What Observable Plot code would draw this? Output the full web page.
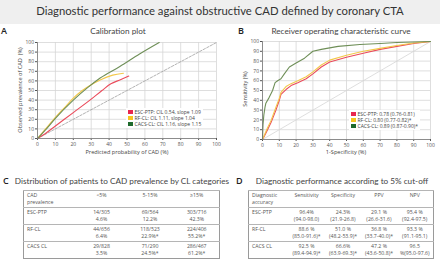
<!DOCTYPE html>
<html>
<head>
<meta charset="utf-8">
<script src="https://cdn.jsdelivr.net/npm/d3@7"></script>
<script src="https://cdn.jsdelivr.net/npm/@observablehq/plot@0.6"></script>
<style>
  body { margin: 0; background: #fff; }
  #fig { position: relative; width: 440px; height: 260px; overflow: hidden;
         font-family: "Open Sans", "Noto Sans", sans-serif; color: #444; background: #fff; }
  .abs { position: absolute; white-space: nowrap; }
  .band { left: 0; top: 0; width: 440px; height: 24px; background: #efefef; }
  .main { left: 0; top: 4px; width: 440px; text-align: center; font-family: Lato, sans-serif; font-size: 11.3px; color: #333; }
  .letter { font-size: 9px; font-weight: 600; color: #222; }
  .ptitle { font-family: Lato, sans-serif; font-size: 8.2px; color: #444; transform: translateX(-50%); }
  .ylab { font-size: 5.6px; color: #444; transform: translate(-50%, -50%) rotate(-90deg); }
  .xlab { font-size: 5.6px; color: #444; transform: translateX(-50%); }
  .legend { background: #fff; font-size: 5px; color: #444; padding: 1px 2px; }
  .legend div { display: flex; align-items: center; height: 6px; }
  .legend span.sw { display: inline-block; width: 4.5px; height: 4.5px; margin-right: 2px; }
  table { border-collapse: collapse; table-layout: fixed; font-size: 5.2px; color: #555; line-height: 7.4px; }
  td { border-top: 0.8px solid #b5b5b5; padding: 0 3px; text-align: center; vertical-align: middle; }
  td.lab { text-align: left; vertical-align: top; padding-top: 0.5px; }
  tr.head td { vertical-align: top; padding-top: 1px; }
  td.lab span { display: inline-block; white-space: normal; width: 30px; }
  table.box { border: 0.8px solid #9a9a9a; }
</style>
</head>
<body>
<div id="fig"></div>
<script>
// ---- shared axis ticks (percent) ----
const axisTicks = [0, 10, 20, 30, 40, 50, 60, 70, 80, 90, 100];

// ---- model names and colours ----
const modelNames = ["ESC-PTP", "RF-CL", "CACS-CL"];
const swatchColors = ["#e8264f", "#f7c520", "#1f6a2c"];
const lineColors = ["#ea4b5b", "#f3c84a", "#6f8f58"];

// ---- A: calibration curves, [predicted %, observed %] ----
const calEscPtp = [[0,0],[5,6],[10,13],[20,27],[30,41],[36,50],[41,57],[46,61],[51,65]];
const calRfCl   = [[0,0],[5,11],[10,22],[15,32],[20,42],[25,50],[30,56],[35,61],[42,66],[48,68]];
const calCacsCl = [[0,0],[5,10],[10,21],[20,40],[28,53],[35,63],[46,75],[57,88],[68,100]];
const calLegend = ["ESC-PTP: CIL 0.54, slope 1.09", "RF-CL: CIL 1.11, slope 1.04", "CACS-CL: CIL 1.16, slope 1.15"];

// ---- B: ROC curves, [1-specificity %, sensitivity %] ----
const rocEscPtp = [[0,0],[1,3],[3,10],[5,17],[8,30],[10,40],[11,46],[14,51],[17,55],[21,58],[26,62],[30,67],[35,74],[40,79],[50,84],[60,88],[70,92],[80,95],[90,98],[100,100]];
const rocRfCl   = [[0,0],[1,4],[3,12],[5,19],[8,33],[10,42],[11,48],[14,54],[17,57],[21,60],[26,64],[30,69],[35,76],[40,81],[50,86],[60,90],[70,93],[80,96],[90,98.5],[100,100]];
const rocCacsCl = [[0,0],[0.3,15],[0.8,25],[1.5,33],[2,37],[4,43],[6,50],[7.5,58],[9,60],[11,62],[13,67],[16,74],[20,78],[25,83],[30,90],[35,92],[45,95],[58,97],[70,98],[80,99],[90,99.5],[100,100]];
const rocLegend = ["ESC-PTP: 0.78 (0.76-0.81)", "RF-CL: 0.80 (0.77-0.82)*", "CACS-CL: 0.89 (0.87-0.90)*"];

// ---- C: distribution table ----
const distHeader = ["CAD prevalence", "<5%", "5-15%", "\u226515%"];
const distRows = ["ESC-PTP", "RF-CL", "CACS CL"];
const distCounts = [["14/305", "69/564", "303/716"], ["44/656", "118/523", "224/406"], ["29/828", "71/290", "286/467"]];
const distPct = [["4.6%", "12.2%", "42.3%"], ["6.4%", "22.9%*", "55.2%*"], ["3.5%", "24.5%*", "61.2%*"]];

// ---- D: diagnostic accuracy table ----
const accHeader = ["Diagnostic accuracy", "Sensitivity", "Specificity", "PPV", "NPV"];
const accRows = ["ESC-PTP", "RF-CL", "CACS CL"];
const accValues = [["96.4%", "24.3%", "29.1 %", "95.4 %"], ["88.6 %", "51.0 %", "36.8 %", "93.3 %"], ["92.5 %", "66.6%", "47.2 %", "96.5"]];
const accCI = [["(94.0-98.0)", "(21.9-26.8)", "(26.6-31.6)", "(92.4-97.5)"], ["(85.0-91.6)*", "(48.2-53.9)*", "(33.7-40.0)*", "(91.1-95.1)"], ["(89.4-94.9)*", "(63.9-69.3)*", "(43.6-50.8)*", "%(95.0-97.6)"]];

const fig = document.getElementById("fig");
function add(cls, css, html) {
  const d = document.createElement("div");
  d.className = "abs " + cls;
  Object.assign(d.style, css);
  d.innerHTML = html;
  fig.appendChild(d);
  return d;
}
const esc = s => s.replace(/&/g, "&amp;").replace(/</g, "&lt;");

add("band", {}, "");
add("main", {}, "Diagnostic performance against obstructive CAD defined by coronary CTA");

// ---- chart factory for the two line panels ----
function linePanel(series, opts) {
  const grid = "#d6d6d6";
  const marks = [
    Plot.ruleX(axisTicks, {stroke: grid, strokeWidth: 0.8}),
    Plot.ruleY(axisTicks, {stroke: grid, strokeWidth: 0.8}),
    opts.diagonal,
    ...series.map((s, i) => Plot.line(s, {x: d => d[0], y: d => d[1], stroke: lineColors[i], strokeWidth: 1.1, curve: opts.curve})),
    Plot.ruleX([0], {stroke: "#777", strokeWidth: 0.8}),
    Plot.ruleY([0], {stroke: "#777", strokeWidth: 0.8})
  ];
  return Plot.plot({
    width: 220, height: 122,
    marginLeft: opts.left, marginRight: opts.right, marginTop: opts.top, marginBottom: 122 - 102 + (opts.top - 6),
    style: {fontSize: "5px", fontFamily: "'Open Sans', sans-serif", color: "#555", background: "transparent", overflow: "visible"},
    x: {domain: [0, 100], ticks: axisTicks, tickSize: 2, tickPadding: 2, label: null},
    y: {domain: [0, 100], ticks: axisTicks, tickSize: 2, tickPadding: 1.5, label: null},
    marks
  });
}

// ---- A ----
add("letter", {left: "1px", top: "24px"}, "A");
add("ptitle", {left: "118px", top: "26px"}, "Calibration plot");
const plotA = linePanel([calEscPtp, calRfCl, calCacsCl], {
  left: 37, right: 4, top: 6, curve: "monotone-x",
  diagonal: Plot.line([[0, 0], [100, 100]], {x: d => d[0], y: d => d[1], stroke: "#a0a0a0", strokeWidth: 0.8, strokeDasharray: "2.5,1.5"})
});
Object.assign(plotA.style, {position: "absolute", left: "0px", top: "36px"});
fig.appendChild(plotA);
add("ylab", {left: "20px", top: "90px"}, "Observed prevalence of CAD&nbsp;&nbsp;(%)");
add("xlab", {left: "127px", top: "148px"}, "Predicted probability of CAD (%)");
add("legend", {left: "126px", top: "108px"},
  calLegend.map((t, i) => `<div><span class="sw" style="background:${swatchColors[i]}"></span>${esc(t)}</div>`).join(""));

// ---- B ----
add("letter", {left: "238px", top: "24px"}, "B");
add("ptitle", {left: "341px", top: "26px"}, "Receiver operating characteristic curve");
const plotB = linePanel([rocEscPtp, rocRfCl, rocCacsCl], {
  left: 42, right: 10, top: 5, curve: "linear",
  diagonal: Plot.line([[0, 0], [100, 100]], {x: d => d[0], y: d => d[1], stroke: "#d6d6d6", strokeWidth: 0.8})
});
Object.assign(plotB.style, {position: "absolute", left: "220px", top: "36px"});
fig.appendChild(plotB);
add("ylab", {left: "245px", top: "89px"}, "Sensitivity (%)");
add("xlab", {left: "346px", top: "148px"}, "1-Specificity (%)");
add("legend", {left: "349px", top: "110px"},
  rocLegend.map((t, i) => `<div><span class="sw" style="background:${swatchColors[i]}"></span>${esc(t)}</div>`).join(""));

// ---- tables ----
function table(widths, header, rows, top, bottom) {
  let h = `<table class="box" style="width:${widths.reduce((a, b) => a + b, 0)}px">`;
  h += `<colgroup>${widths.map(w => `<col style="width:${w}px">`).join("")}</colgroup>`;
  h += `<tr class="head" style="height:17px">` + header.map((t, i) =>
    i === 0 ? `<td class="lab"><span>${esc(t)}</span></td>` : `<td>${esc(t)}</td>`).join("") + `</tr>`;
  rows.forEach((r, i) => {
    h += `<tr style="height:17px"><td class="lab">${esc(r)}</td>` +
      top[i].map((v, j) => `<td>${esc(v)}<br>${esc(bottom[i][j])}</td>`).join("") + `</tr>`;
  });
  return h + `</table>`;
}

// ---- C ----
add("letter", {left: "3px", top: "174px"}, "C");
add("ptitle", {left: "122px", top: "176px"}, "Distribution of patients to CAD prevalence by CL categories");
add("", {left: "23px", top: "190px"}, table([54, 48, 49, 45], distHeader, distRows, distCounts, distPct));

// ---- D ----
add("letter", {left: "236px", top: "174px"}, "D");
add("ptitle", {left: "342px", top: "176px"}, "Diagnostic performance according to 5% cut-off");
add("", {left: "248px", top: "190px"}, table([40, 36, 37, 35, 37], accHeader, accRows, accValues, accCI));
</script>
</body>
</html>
